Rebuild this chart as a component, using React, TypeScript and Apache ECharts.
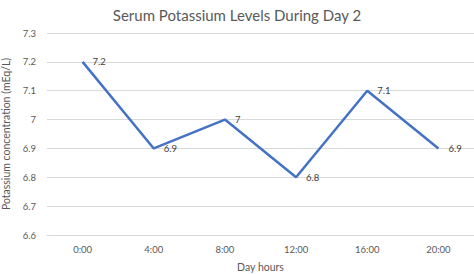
import React, { useEffect, useRef } from "react";
import * as echarts from "echarts";

const categories = ["0:00", "4:00", "8:00", "12:00", "16:00", "20:00"];
const potassium = [7.2, 6.9, 7.0, 6.8, 7.1, 6.9];
const yMin = 6.6;
const yMax = 7.3;
const yStep = 0.1;

const FONT = "Lato";
const TEXT = "#595959";

export default function App() {
  const ref = useRef<HTMLDivElement>(null);
  useEffect(() => {
    if (!ref.current) return;
    const chart = echarts.init(ref.current, undefined, { renderer: "svg" });
    chart.setOption({
      animation: false,
      backgroundColor: "#ffffff",
      title: {
        text: "Serum Potassium Levels During Day 2",
        left: "center",
        top: 2,
        textStyle: { fontFamily: FONT, fontSize: 15, fontWeight: "normal", color: TEXT },
      },
      grid: { left: 47, right: 0, top: 33, bottom: 39, outerBoundsMode: "none" },
      xAxis: {
        type: "category",
        data: categories,
        boundaryGap: true,
        name: "Day hours",
        nameLocation: "middle",
        nameGap: 26,
        nameTextStyle: { fontFamily: FONT, fontSize: 10.5, color: TEXT },
        axisLine: { lineStyle: { color: "#d9d9d9", width: 1 } },
        axisTick: { show: false },
        axisLabel: { fontFamily: FONT, fontSize: 9.5, color: TEXT, margin: 9 },
      },
      yAxis: {
        type: "value",
        min: yMin,
        max: yMax,
        interval: yStep,
        name: "Potassium concentration (mEq/L)",
        nameLocation: "middle",
        nameGap: 34,
        nameTextStyle: { fontFamily: FONT, fontSize: 10.5, color: TEXT },
        axisLine: { show: false },
        axisTick: { show: false },
        splitLine: { lineStyle: { color: "#d9d9d9", width: 1 } },
        axisLabel: {
          fontFamily: FONT,
          fontSize: 9.5,
          color: TEXT,
          margin: 11,
          formatter: (v: number) => String(parseFloat(v.toFixed(1))),
        },
      },
      series: [
        {
          type: "line",
          data: potassium,
          symbol: "circle",
          symbolSize: 2,
          showSymbol: true,
          itemStyle: { color: "rgba(0,0,0,0)", borderWidth: 0 },
          lineStyle: { color: "#4472C4", width: 2.5 },
          label: {
            show: true,
            position: "right",
            distance: 9,
            fontFamily: FONT,
            fontSize: 9.5,
            color: "#404040",
            formatter: (p: any) => String(parseFloat(Number(p.value).toFixed(1))),
          },
        },
      ],
    });
    return () => chart.dispose();
  }, []);
  return <div ref={ref} style={{ width: 474, height: 274, position: "absolute", left: 0, top: 0 }} />;
}
